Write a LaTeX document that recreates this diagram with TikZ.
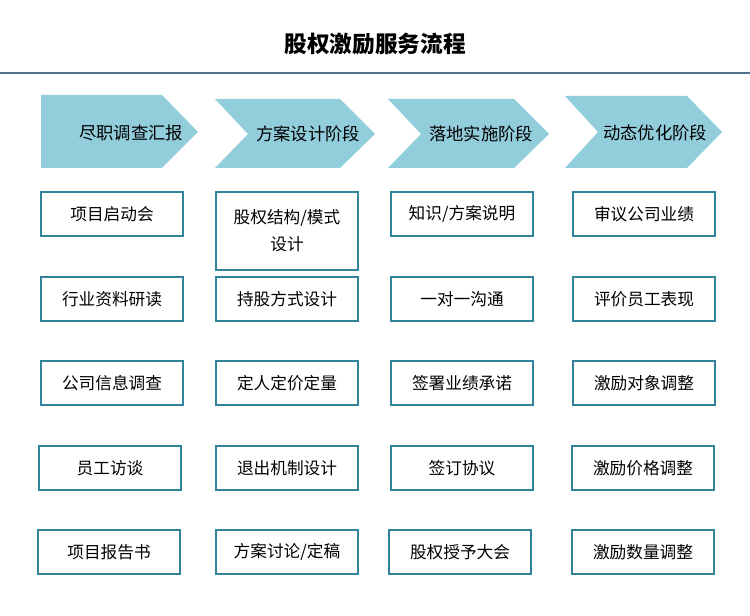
\documentclass[tikz,border=0pt]{standalone}
\usepackage{fontspec}
\setmainfont{Noto Sans CJK SC}
\usetikzlibrary{positioning}
\definecolor{stagefill}{HTML}{92CDDC}
\definecolor{boxline}{HTML}{31849B}
\definecolor{ruleline}{HTML}{50708F}
\tikzset{
  stage/.style={fill=stagefill, draw=none},
  task/.style={draw=boxline, line width=0.8pt, minimum width=142*0.75pt, minimum height=44*0.75pt, inner sep=0pt, font=\fontsize{12.5}{20}\selectfont, align=center},
  stagetext/.style={font=\fontsize{13}{16}\selectfont}
}
\begin{document}
\begin{tikzpicture}[x=0.75pt, y=-0.75pt]
\useasboundingbox (0,0) rectangle (750,616);
\node[font=\fontsize{17}{20}\selectfont\bfseries] (title) at (375,44) {股权激励服务流程};
\coordinate (ruleL) at (0,73);
\coordinate (ruleR) at (750,73);
\draw[ruleline, line width=0.8pt] (ruleL) -- (ruleR);
% stages
\fill[stage] (41,95) -- (162,95) -- (198,132) -- (162,168) -- (41,168) -- cycle;
\fill[stage] (215,99) -- (340,99) -- (375,134) -- (340,168) -- (215,168) -- (248,134) -- cycle;
\fill[stage] (388,99) -- (514,99) -- (549,134) -- (514,168) -- (388,168) -- (421,134) -- cycle;
\fill[stage] (565,96) -- (687,96) -- (722,132) -- (687,168) -- (565,168) -- (598,132) -- cycle;
\node[stagetext] (s1) at (131,133) {尽职调查汇报};
\node[stagetext] (s2) at (308,134) {方案设计阶段};
\node[stagetext] (s3) at (481,134) {落地实施阶段};
\node[stagetext] (s4) at (655,133) {动态优化阶段};
% column 1
\node[task] (a1) at (112,214) {项目启动会};
\node[task] (a2) at (112,299) {行业资料研读};
\node[task] (a3) at (112,383) {公司信息调查};
\node[task] (a4) at (110,468) {员工访谈};
\node[task] (a5) at (109,552) {项目报告书};
% column 2
\node[task, minimum height=78*0.75pt] (b1) at (287,231) {股权结构/模式\\设计};
\node[task] (b2) at (287,299) {持股方式设计};
\node[task] (b3) at (287,383) {定人定价定量};
\node[task] (b4) at (287,468) {退出机制设计};
\node[task] (b5) at (287,552) {方案讨论/定稿};
% column 3
\node[task] (c1) at (462,214) {知识/方案说明};
\node[task] (c2) at (462,299) {一对一沟通};
\node[task] (c3) at (462,383) {签署业绩承诺};
\node[task] (c4) at (462,468) {签订协议};
\node[task] (c5) at (460,552) {股权授予大会};
% column 4
\node[task] (d1) at (644,214) {审议公司业绩};
\node[task] (d2) at (644,299) {评价员工表现};
\node[task] (d3) at (644,383) {激励对象调整};
\node[task] (d4) at (643,468) {激励价格调整};
\node[task] (d5) at (643,552) {激励数量调整};
\end{tikzpicture}
\end{document}
